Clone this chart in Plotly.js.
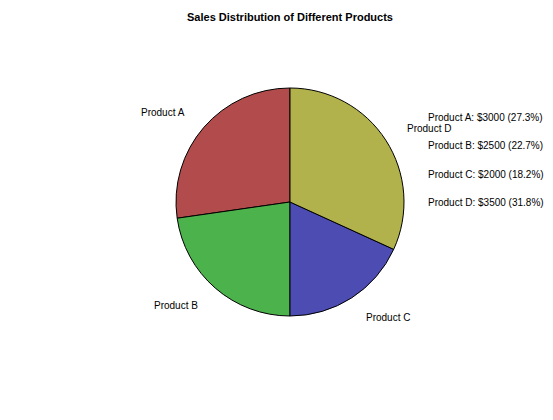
<!DOCTYPE html>
<html>
<head>
<meta charset="utf-8">
<script src="https://cdn.plot.ly/plotly-3.0.1.min.js"></script>
<style>html,body{margin:0;padding:0;background:#fff;}#chart{width:553px;height:420px;}</style>
</head>
<body>
<div id="chart"></div>
<script>
var products = ["Product A", "Product B", "Product C", "Product D"];
var sales = [3000, 2500, 2000, 3500];
var colors = ["#b24c4c", "#4cb24c", "#4c4cb2", "#b2b24c"];

var W = 553, H = 420;
var domX = [176 / W, 404 / W];
var domY = [1 - 316 / H, 1 - 88 / H];

var total = sales.reduce(function (a, b) { return a + b; }, 0);
var fmtPct = function (v) { return (v / total * 100).toFixed(1) + "%"; };

var annotations = [];
// slice labels at 1.2 radius along mid-angle (counterclockwise from top)
var cx = (domX[0] + domX[1]) / 2, cy = (domY[0] + domY[1]) / 2;
var rx = (domX[1] - domX[0]) / 2, ry = (domY[1] - domY[0]) / 2;
var acc = 0;
for (var i = 0; i < sales.length; i++) {
  var mid = 90 + (acc + sales[i] / 2) / total * 360;
  acc += sales[i];
  var a = mid * Math.PI / 180;
  var c = Math.cos(a), s = Math.sin(a);
  annotations.push({
    text: products[i], showarrow: false, xref: "paper", yref: "paper",
    x: cx + 1.2 * rx * c, y: cy + 1.2 * ry * s,
    xanchor: c < 0 ? "right" : "left", yanchor: "middle",
    font: {family: "Liberation Sans, Arial, sans-serif", size: 10, color: "#000"}
  });
}
// legend-like text entries
for (var j = 0; j < products.length; j++) {
  annotations.push({
    text: products[j] + ": $" + sales[j] + " (" + fmtPct(sales[j]) + ")",
    showarrow: false, xref: "paper", yref: "paper",
    x: 426 / W, y: 1 - (117 + j * 28.5) / H,
    xanchor: "left", yanchor: "middle",
    font: {family: "Liberation Sans, Arial, sans-serif", size: 10, color: "#000"}
  });
}

var trace = {
  type: "pie",
  labels: products,
  values: sales,
  sort: false,
  direction: "counterclockwise",
  rotation: -sales[0] / total * 360,
  textinfo: "none",
  hoverinfo: "label+value+percent",
  marker: {colors: colors, line: {color: "#000", width: 1}},
  domain: {x: domX, y: domY}
};

var layout = {
  width: W, height: H,
  margin: {l: 0, r: 0, t: 0, b: 0},
  paper_bgcolor: "#fff",
  showlegend: false,
  title: {
    text: "<b>Sales Distribution of Different Products</b>",
    x: 290 / W, xanchor: "center", y: 1 - 17 / H, yanchor: "middle",
    font: {family: "Liberation Sans, Arial, sans-serif", size: 11, color: "#000"}
  },
  annotations: annotations
};

Plotly.newPlot("chart", [trace], layout, {displayModeBar: false, staticPlot: true});
</script>
</body>
</html>
